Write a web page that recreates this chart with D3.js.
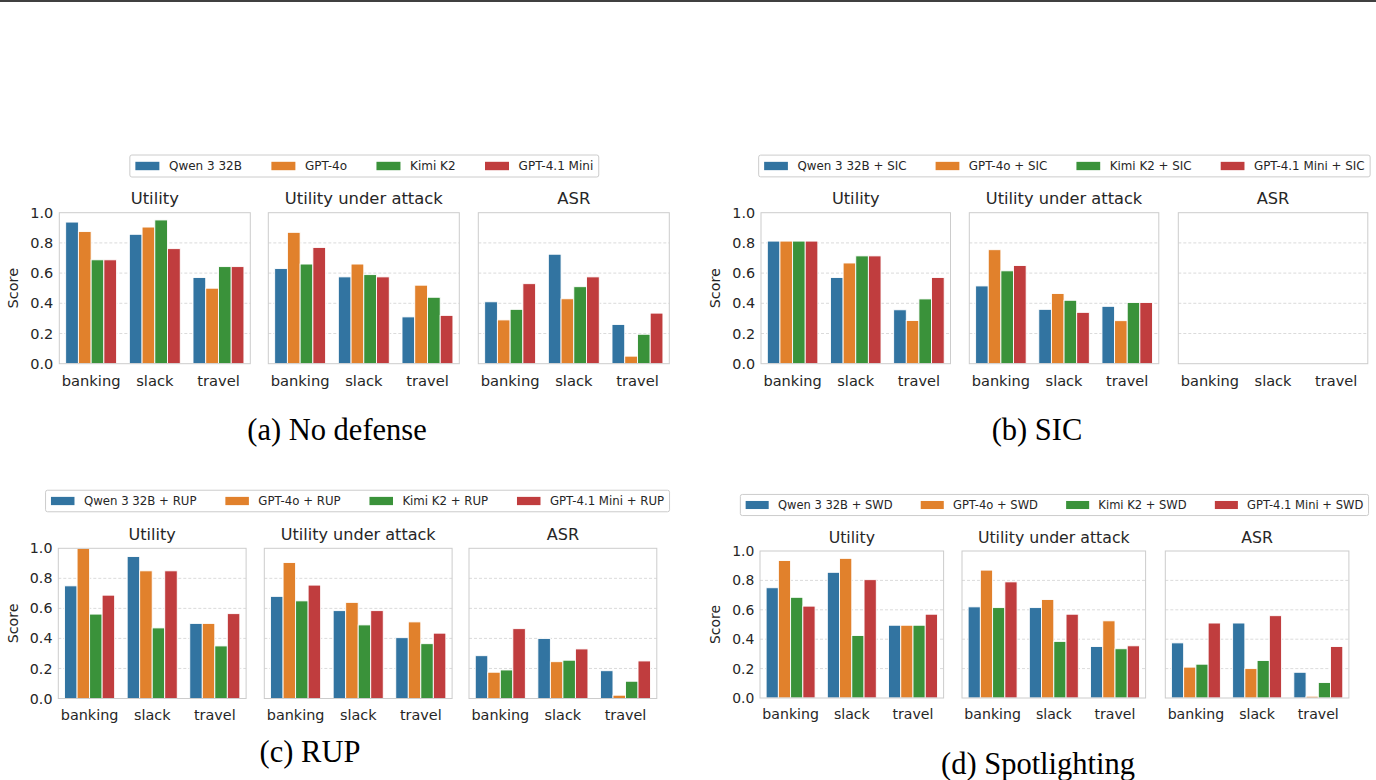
<!DOCTYPE html>
<html>
<head>
<meta charset="utf-8">
<script src="https://cdn.jsdelivr.net/npm/d3@7"></script>
<style>
  body { margin: 0; background: #fff; }
  text { font-family: "DejaVu Sans", sans-serif; fill: #262626; }
  .caption { font-family: "Liberation Serif", "Times New Roman", serif; fill: #000; }
</style>
</head>
<body>
<div id="chart-area"></div>
<script>
// our categories
const tasks = ["banking", "slack", "travel"];
const metrics = ["Utility", "Utility under attack", "ASR"];
const models = ["Qwen 3 32B", "GPT-4o", "Kimi K2", "GPT-4.1 Mini"];
const yTicks = [0.0, 0.2, 0.4, 0.6, 0.8, 1.0];
const modelColors = ["#3274a1", "#e1812c", "#3a923a", "#c03d3e"];

// values: one row per task (banking, slack, travel), one column per model
// (a) no defense
const noDefUtility = [[0.938, 0.875, 0.688, 0.688], [0.857, 0.905, 0.952, 0.762], [0.571, 0.500, 0.643, 0.643]];
const noDefUnderAttack = [[0.630, 0.870, 0.660, 0.770], [0.575, 0.660, 0.590, 0.575], [0.310, 0.520, 0.440, 0.320]];
const noDefAsr = [[0.410, 0.290, 0.360, 0.530], [0.725, 0.430, 0.510, 0.575], [0.260, 0.050, 0.195, 0.335]];
// (b) SIC
const sicUtility = [[0.812, 0.812, 0.812, 0.812], [0.571, 0.667, 0.714, 0.714], [0.357, 0.286, 0.429, 0.571]];
const sicUnderAttack = [[0.515, 0.755, 0.615, 0.650], [0.360, 0.465, 0.420, 0.340], [0.380, 0.285, 0.405, 0.405]];
const sicAsr = [[0, 0, 0, 0], [0, 0, 0, 0], [0, 0, 0, 0]];
// (c) RUP
const rupUtility = [[0.750, 1.000, 0.562, 0.688], [0.945, 0.850, 0.470, 0.850], [0.500, 0.500, 0.350, 0.565]];
const rupUnderAttack = [[0.680, 0.905, 0.650, 0.755], [0.585, 0.640, 0.490, 0.585], [0.405, 0.510, 0.365, 0.435]];
const rupAsr = [[0.285, 0.175, 0.190, 0.465], [0.400, 0.245, 0.255, 0.330], [0.185, 0.022, 0.115, 0.250]];
// (d) spotlighting
const swdUtility = [[0.750, 0.935, 0.685, 0.625], [0.855, 0.950, 0.425, 0.805], [0.495, 0.495, 0.495, 0.570]];
const swdUnderAttack = [[0.620, 0.870, 0.615, 0.790], [0.615, 0.670, 0.385, 0.570], [0.350, 0.525, 0.335, 0.355]];
const swdAsr = [[0.375, 0.210, 0.230, 0.510], [0.510, 0.200, 0.255, 0.560], [0.175, 0.012, 0.105, 0.350]];

// layout of our four panels
const panels = [
  { caption: "(a) No defense", suffix: "", data: [noDefUtility, noDefUnderAttack, noDefAsr],
    lefts: [59.3, 268.3, 478.3], w: 191, top: 212.7, bottom: 363.7, s: 1, legendY: 166, capX: 337, capY: 440, labelX: 13 },
  { caption: "(b) SIC", suffix: " + SIC", data: [sicUtility, sicUnderAttack, sicAsr],
    lefts: [761, 969.3, 1178.3], w: 189.5, top: 212.7, bottom: 363.7, s: 0.99, legendY: 166, capX: 1037, capY: 440, labelX: 715 },
  { caption: "(c) RUP", suffix: " + RUP", data: [rupUtility, rupUnderAttack, rupAsr],
    lefts: [58.3, 264.3, 469], w: 187.8, top: 548.3, bottom: 698.5, s: 0.98, legendY: 501, capX: 310, capY: 762, labelX: 13 },
  { caption: "(d) Spotlighting", suffix: " + SWD", data: [swdUtility, swdUnderAttack, swdAsr],
    lefts: [760, 962, 1165.3], w: 183.6, top: 551, bottom: 698, s: 0.96, legendY: 505, capX: 1038, capY: 774, labelX: 715 }
];

const svg = d3.select("#chart-area")
  .append("svg")
    .attr("width", 1376)
    .attr("height", 780);

// page rule at the very top
svg.append("line")
  .attr("x1", 0).attr("x2", 1376)
  .attr("y1", 1).attr("y2", 1)
  .attr("stroke", "#000")
  .attr("stroke-width", 1.5);

panels.forEach(function(p) {
  const s = p.s;
  const y = d3.scaleLinear().domain([0, 1]).range([p.bottom, p.top]);

  p.data.forEach(function(vals, m) {
    const left = p.lefts[m];
    const x0 = d3.scaleBand()
      .domain(tasks)
      .range([left, left + p.w])
      .paddingInner(0.2)
      .paddingOuter(0.1);
    const x1 = d3.scaleBand()
      .domain(models)
      .range([0, x0.bandwidth()]);

    const ax = svg.append("g");

    // dashed grid lines
    ax.selectAll(".grid")
      .data(yTicks.slice(1, -1))
      .join("line")
        .attr("x1", left).attr("x2", left + p.w)
        .attr("y1", d => y(d)).attr("y2", d => y(d))
        .attr("stroke", "#d2d2d2")
        .attr("stroke-width", 0.8)
        .attr("stroke-dasharray", "3,2");

    // bars for each task group
    tasks.forEach(function(task, i) {
      ax.append("g")
        .selectAll("rect")
        .data(vals[i])
        .join("rect")
          .attr("x", (d, j) => x0(task) + x1(models[j]))
          .attr("y", d => y(d))
          .attr("width", x1.bandwidth())
          .attr("height", d => y(0) - y(d))
          .attr("fill", (d, j) => modelColors[j])
          .attr("stroke", "#fff")
          .attr("stroke-width", 0.9);
    });

    // axes frame
    ax.append("rect")
      .attr("x", left).attr("y", p.top)
      .attr("width", p.w).attr("height", p.bottom - p.top)
      .attr("fill", "none")
      .attr("stroke", "#cccccc")
      .attr("stroke-width", 1);

    // x labels
    const xAxis = ax.append("g")
      .attr("transform", "translate(0," + p.bottom + ")")
      .call(d3.axisBottom(x0).tickSize(0).tickPadding(11.6 * s));
    xAxis.select(".domain").remove();
    xAxis.selectAll("text")
      .attr("font-family", "DejaVu Sans")
      .attr("font-size", (14.7 * s) + "px")
      .attr("fill", "#262626");

    // y labels only on the first subplot
    if (m === 0) {
      const yAxis = ax.append("g")
        .attr("transform", "translate(" + left + ",0)")
        .call(d3.axisLeft(y).tickValues(yTicks).tickFormat(d3.format(".1f")).tickSize(0).tickPadding(6 * s));
      yAxis.select(".domain").remove();
      yAxis.selectAll("text")
        .attr("font-family", "DejaVu Sans")
        .attr("font-size", (14.5 * s) + "px")
        .attr("fill", "#262626");

      ax.append("text")
        .attr("transform", "translate(" + p.labelX + "," + ((p.top + p.bottom) / 2) + ") rotate(-90)")
        .attr("text-anchor", "middle")
        .attr("dy", "0.35em")
        .attr("font-size", (14.5 * s) + "px")
        .text("Score");
    }

    // subplot title
    ax.append("text")
      .attr("x", left + p.w / 2)
      .attr("y", p.top - 8.5 * s)
      .attr("text-anchor", "middle")
      .attr("font-size", (16.4 * s) + "px")
      .text(metrics[m]);
  });

  // legend, centred over the three subplots
  const fs = 12 * s;
  const legend = svg.append("g");
  const frame = legend.append("rect")
    .attr("fill", "#fff")
    .attr("stroke", "#cccccc")
    .attr("stroke-width", 1)
    .attr("rx", 2);
  const rows = models.map(function(model, j) {
    const row = legend.append("g");
    row.append("rect")
      .attr("width", 2 * fs)
      .attr("height", 0.7 * fs)
      .attr("y", -0.35 * fs)
      .attr("fill", modelColors[j]);
    const label = row.append("text")
      .attr("x", 2.8 * fs)
      .attr("dy", "0.35em")
      .attr("font-size", fs + "px")
      .text(model + p.suffix);
    return { row: row, width: 2.8 * fs + label.node().getComputedTextLength() };
  });
  const colGap = 2.45 * fs;
  const pad = 0.46 * fs;
  const total = d3.sum(rows, r => r.width) + colGap * (rows.length - 1) + 2 * pad;
  const span = p.lefts[2] + p.w - p.lefts[0];
  let cursor = p.lefts[0] + span / 2 - total / 2;
  frame
    .attr("x", cursor)
    .attr("y", p.legendY - 11 * s)
    .attr("width", total)
    .attr("height", 22 * s);
  cursor += pad;
  rows.forEach(function(r) {
    r.row.attr("transform", "translate(" + cursor + "," + p.legendY + ")");
    cursor += r.width + colGap;
  });

  // sub-figure caption
  svg.append("text")
    .attr("class", "caption")
    .attr("x", p.capX)
    .attr("y", p.capY)
    .attr("text-anchor", "middle")
    .attr("font-size", "30.5px")
    .text(p.caption);
});
</script>
</body>
</html>
